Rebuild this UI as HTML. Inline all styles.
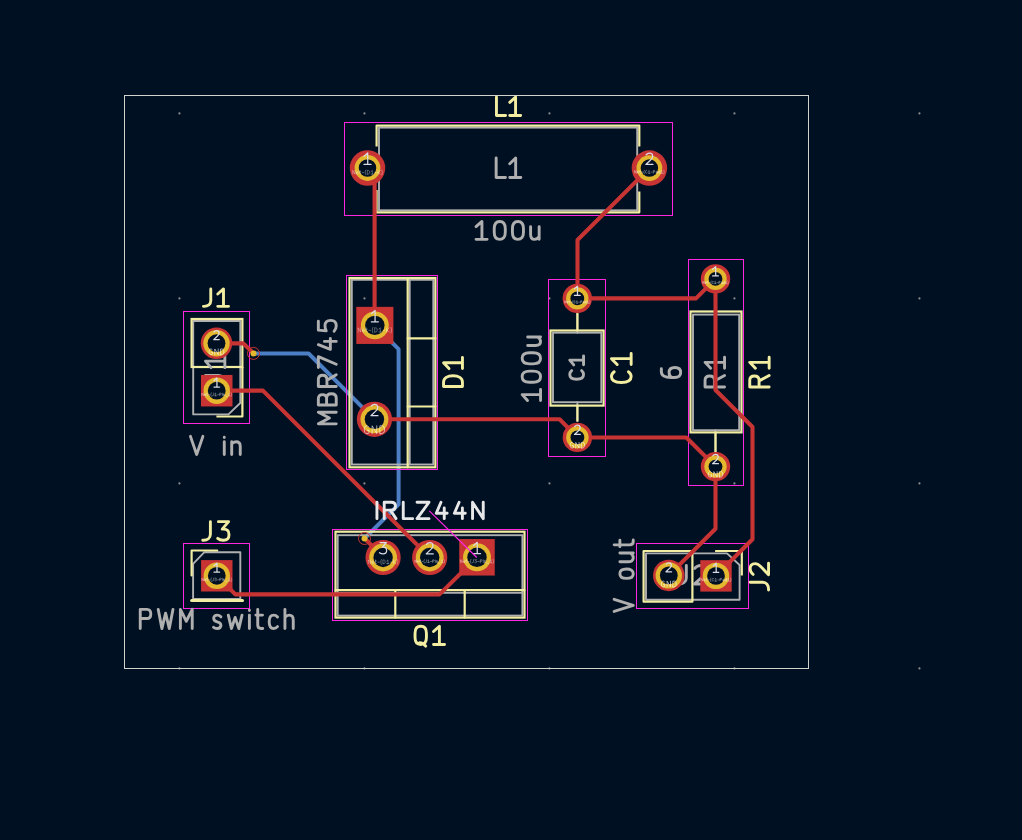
<!DOCTYPE html>
<html><head><meta charset="utf-8"><title>PCB</title>
<style>html,body{margin:0;padding:0;background:#001023;width:1022px;height:840px;overflow:hidden;font-family:"Liberation Sans",sans-serif}</style>
</head><body>
<svg width="1022" height="840" viewBox="0 0 1022 840" style="display:block">
<rect width="1022" height="840" fill="#001023"/>
<circle cx="179.45" cy="113.40" r="1.1" fill="#8c8c8c"/>
<circle cx="179.45" cy="298.40" r="1.1" fill="#8c8c8c"/>
<circle cx="179.45" cy="483.40" r="1.1" fill="#8c8c8c"/>
<circle cx="179.45" cy="668.40" r="1.1" fill="#8c8c8c"/>
<circle cx="364.45" cy="113.40" r="1.1" fill="#8c8c8c"/>
<circle cx="364.45" cy="298.40" r="1.1" fill="#8c8c8c"/>
<circle cx="364.45" cy="483.40" r="1.1" fill="#8c8c8c"/>
<circle cx="364.45" cy="668.40" r="1.1" fill="#8c8c8c"/>
<circle cx="549.45" cy="113.40" r="1.1" fill="#8c8c8c"/>
<circle cx="549.45" cy="298.40" r="1.1" fill="#8c8c8c"/>
<circle cx="549.45" cy="483.40" r="1.1" fill="#8c8c8c"/>
<circle cx="549.45" cy="668.40" r="1.1" fill="#8c8c8c"/>
<circle cx="734.45" cy="113.40" r="1.1" fill="#8c8c8c"/>
<circle cx="734.45" cy="298.40" r="1.1" fill="#8c8c8c"/>
<circle cx="734.45" cy="483.40" r="1.1" fill="#8c8c8c"/>
<circle cx="734.45" cy="668.40" r="1.1" fill="#8c8c8c"/>
<circle cx="919.45" cy="113.40" r="1.1" fill="#8c8c8c"/>
<circle cx="919.45" cy="298.40" r="1.1" fill="#8c8c8c"/>
<circle cx="919.45" cy="483.40" r="1.1" fill="#8c8c8c"/>
<circle cx="919.45" cy="668.40" r="1.1" fill="#8c8c8c"/>
<path d="M253.50,353.50 L308.60,353.50 L374.45,419.30" fill="none" stroke="#4d7fc4" stroke-width="3.95" stroke-linecap="round" stroke-linejoin="round"/>
<path d="M374.85,325.40 L398.60,349.20 L398.60,504.40 L364.50,538.50" fill="none" stroke="#4d7fc4" stroke-width="3.95" stroke-linecap="round" stroke-linejoin="round"/>
<rect x="379" y="127.6" width="258.20" height="82.70" fill="none" stroke="#afafaf" stroke-width="1.9"/>
<path d="M376.60,146.50 L376.60,125.60 L639.30,125.60 L639.30,146.40" fill="none" stroke="#f2eda1" stroke-width="2.2" stroke-linecap="butt" stroke-linejoin="round"/>
<path d="M376.60,190.00 L376.60,212.30 L639.30,212.30 L639.30,191.40" fill="none" stroke="#f2eda1" stroke-width="2.2" stroke-linecap="butt" stroke-linejoin="round"/>
<rect x="344.5" y="122.5" width="328.00" height="93.00" fill="none" stroke="#ff26e2" stroke-width="1"/>
<g transform="translate(508.50,167.75) scale(17.8986,19.4000) translate(-0.6900,0.5000)" fill="none" stroke="#afafaf" stroke-width="2.9" stroke-linecap="round" stroke-linejoin="round"><path vector-effect="non-scaling-stroke" transform="translate(0.000,0)" d="M0,-1 L0,0 L0.52,0"/><path vector-effect="non-scaling-stroke" transform="translate(0.760,0)" d="M0,-0.71 L0.33,-1 L0.33,0 M0,0 L0.62,0"/></g>
<g transform="translate(508.55,106.25) scale(17.5362,18.6000) translate(-0.6900,0.5000)" fill="none" stroke="#f2eda1" stroke-width="2.9" stroke-linecap="round" stroke-linejoin="round"><path vector-effect="non-scaling-stroke" transform="translate(0.000,0)" d="M0,-1 L0,0 L0.52,0"/><path vector-effect="non-scaling-stroke" transform="translate(0.760,0)" d="M0,-0.71 L0.33,-1 L0.33,0 M0,0 L0.62,0"/></g>
<g transform="translate(507.60,230.40) scale(17.8249,17.9000) translate(-1.7700,0.5000)" fill="none" stroke="#afafaf" stroke-width="2.9" stroke-linecap="round" stroke-linejoin="round"><path vector-effect="non-scaling-stroke" transform="translate(0.000,0)" d="M0,-0.71 L0.33,-1 L0.33,0 M0,0 L0.62,0"/><path vector-effect="non-scaling-stroke" transform="translate(1.020,0)" d="M0.31,-1 C0.5,-1 0.62,-0.86 0.62,-0.6 L0.62,-0.4 C0.62,-0.14 0.5,0 0.31,0 C0.12,0 0,-0.14 0,-0.4 L0,-0.6 C0,-0.86 0.12,-1 0.31,-1 Z"/><path vector-effect="non-scaling-stroke" transform="translate(2.040,0)" d="M0.31,-1 C0.5,-1 0.62,-0.86 0.62,-0.6 L0.62,-0.4 C0.62,-0.14 0.5,0 0.31,0 C0.12,0 0,-0.14 0,-0.4 L0,-0.6 C0,-0.86 0.12,-1 0.31,-1 Z"/><path vector-effect="non-scaling-stroke" transform="translate(3.060,0)" d="M0,-0.7 L0,-0.27 C0,-0.1 0.07,0 0.22,0 C0.33,0 0.42,-0.06 0.48,-0.16 M0.48,-0.7 L0.48,0"/></g>
<rect x="351.8" y="279.8" width="81.50" height="184.70" fill="none" stroke="#afafaf" stroke-width="1.9"/>
<path d="M409.70,279.80 L409.70,464.50" fill="none" stroke="#afafaf" stroke-width="1.9" stroke-linecap="round" stroke-linejoin="round"/>
<rect x="349.5" y="278" width="85.90" height="189.30" fill="none" stroke="#f2eda1" stroke-width="2.2"/>
<path d="M407.70,278.00 L407.70,467.30" fill="none" stroke="#f2eda1" stroke-width="2.2" stroke-linecap="round" stroke-linejoin="round"/>
<path d="M407.70,338.40 L435.40,338.40" fill="none" stroke="#f2eda1" stroke-width="2.2" stroke-linecap="round" stroke-linejoin="round"/>
<path d="M407.70,406.50 L435.40,406.50" fill="none" stroke="#f2eda1" stroke-width="2.2" stroke-linecap="round" stroke-linejoin="round"/>
<rect x="346.5" y="275.5" width="91.00" height="194.00" fill="none" stroke="#ff26e2" stroke-width="1"/>
<g transform="translate(327.30,372.10) rotate(-90) scale(18.1261,17.9000) translate(-2.8550,0.5000)" fill="none" stroke="#afafaf" stroke-width="2.9" stroke-linecap="round" stroke-linejoin="round"><path vector-effect="non-scaling-stroke" transform="translate(0.000,0)" d="M0,0 L0,-1 L0.32,-0.38 L0.64,-1 L0.64,0"/><path vector-effect="non-scaling-stroke" transform="translate(1.040,0)" d="M0.34,-0.54 C0.49,-0.54 0.57,-0.63 0.57,-0.77 C0.57,-0.91 0.49,-1 0.34,-1 L0,-1 L0,0 L0.38,0 C0.53,0 0.62,-0.1 0.62,-0.27 C0.62,-0.44 0.53,-0.54 0.38,-0.54 L0,-0.54"/><path vector-effect="non-scaling-stroke" transform="translate(2.060,0)" d="M0,0 L0,-1 L0.38,-1 C0.54,-1 0.62,-0.9 0.62,-0.76 C0.62,-0.6 0.54,-0.52 0.38,-0.52 L0,-0.52 M0.34,-0.52 L0.65,0"/><path vector-effect="non-scaling-stroke" transform="translate(3.110,0)" d="M0,-1 L0.6,-1 L0.18,0"/><path vector-effect="non-scaling-stroke" transform="translate(4.110,0)" d="M0.26,-1 L0,-0.33 L0.6,-0.33 M0.44,-0.66 L0.44,0"/><path vector-effect="non-scaling-stroke" transform="translate(5.110,0)" d="M0.55,-1 L0.06,-1 L0.02,-0.56 C0.1,-0.6 0.2,-0.63 0.3,-0.63 C0.5,-0.63 0.6,-0.5 0.6,-0.31 C0.6,-0.1 0.5,0 0.3,0 C0.18,0 0.08,-0.04 0,-0.12"/></g>
<g transform="translate(453.00,372.00) rotate(-90) scale(17.8395,18.9000) translate(-0.8100,0.5000)" fill="none" stroke="#f2eda1" stroke-width="2.9" stroke-linecap="round" stroke-linejoin="round"><path vector-effect="non-scaling-stroke" transform="translate(0.000,0)" d="M0,0 L0,-1 L0.24,-1 C0.47,-1 0.6,-0.8 0.6,-0.5 C0.6,-0.2 0.47,0 0.24,0 Z"/><path vector-effect="non-scaling-stroke" transform="translate(1.000,0)" d="M0,-0.71 L0.33,-1 L0.33,0 M0,0 L0.62,0"/></g>
<path d="M228.40,414.40 L193.20,414.40 L193.20,321.00 L240.30,321.00 L240.30,403.00 L228.40,414.40" fill="none" stroke="#afafaf" stroke-width="1.9" stroke-linecap="round" stroke-linejoin="round"/>
<rect x="191.6" y="319" width="50.80" height="48.00" fill="none" stroke="#f2eda1" stroke-width="2.2"/>
<path d="M242.40,367.00 L242.40,416.50 L216.40,416.50" fill="none" stroke="#f2eda1" stroke-width="2.2" stroke-linecap="butt" stroke-linejoin="round"/>
<rect x="183.5" y="311.5" width="66.00" height="112.00" fill="none" stroke="#ff26e2" stroke-width="1"/>
<g transform="translate(216.00,297.65) scale(17.4306,17.4000) translate(-0.7200,0.5000)" fill="none" stroke="#f2eda1" stroke-width="2.9" stroke-linecap="round" stroke-linejoin="round"><path vector-effect="non-scaling-stroke" transform="translate(0.000,0)" d="M0.42,-1 L0.42,-0.32 C0.42,-0.12 0.26,0 0.04,0 L0,0"/><path vector-effect="non-scaling-stroke" transform="translate(0.820,0)" d="M0,-0.71 L0.33,-1 L0.33,0 M0,0 L0.62,0"/></g>
<g transform="translate(215.35,445.40) scale(18.5821,18.1000) translate(-1.3400,0.5000)" fill="none" stroke="#afafaf" stroke-width="2.9" stroke-linecap="round" stroke-linejoin="round"><path vector-effect="non-scaling-stroke" transform="translate(0.000,0)" d="M0,-1 L0.335,0 L0.67,-1"/><path vector-effect="non-scaling-stroke" transform="translate(1.820,0)" d="M0,-0.7 L0,0 M0,-0.95 L0,-0.94"/><path vector-effect="non-scaling-stroke" transform="translate(2.220,0)" d="M0,-0.7 L0,0 M0,-0.58 C0.06,-0.66 0.13,-0.7 0.23,-0.7 C0.38,-0.7 0.46,-0.61 0.46,-0.45 L0.46,0"/></g>
<g transform="translate(215.15,369.60) rotate(-90) scale(19.6528,19.4000) translate(-0.7200,0.5000)" fill="none" stroke="#afafaf" stroke-width="2.9" stroke-linecap="round" stroke-linejoin="round"><path vector-effect="non-scaling-stroke" transform="translate(0.000,0)" d="M0.42,-1 L0.42,-0.32 C0.42,-0.12 0.26,0 0.04,0 L0,0"/><path vector-effect="non-scaling-stroke" transform="translate(0.820,0)" d="M0,-0.71 L0.33,-1 L0.33,0 M0,0 L0.62,0"/></g>
<rect x="553" y="332.7" width="48.30" height="69.50" fill="none" stroke="#afafaf" stroke-width="1.9"/>
<path d="M577.40,314.00 L577.40,332.70" fill="none" stroke="#afafaf" stroke-width="1.9" stroke-linecap="round" stroke-linejoin="round"/>
<path d="M577.40,402.20 L577.40,421.00" fill="none" stroke="#afafaf" stroke-width="1.9" stroke-linecap="round" stroke-linejoin="round"/>
<rect x="550.5" y="330.5" width="53.10" height="75.10" fill="none" stroke="#f2eda1" stroke-width="2.2"/>
<path d="M577.40,313.00 L577.40,330.50" fill="none" stroke="#f2eda1" stroke-width="2.2" stroke-linecap="butt" stroke-linejoin="round"/>
<path d="M577.40,405.60 L577.40,421.50" fill="none" stroke="#f2eda1" stroke-width="2.2" stroke-linecap="butt" stroke-linejoin="round"/>
<rect x="548.5" y="279.5" width="57.00" height="177.00" fill="none" stroke="#ff26e2" stroke-width="1"/>
<g transform="translate(576.65,367.60) rotate(-90) scale(14.3827,13.8000) translate(-0.8100,0.5000)" fill="none" stroke="#afafaf" stroke-width="2.9" stroke-linecap="round" stroke-linejoin="round"><path vector-effect="non-scaling-stroke" transform="translate(0.000,0)" d="M0.6,-0.86 C0.52,-0.96 0.43,-1 0.33,-1 C0.12,-1 0,-0.8 0,-0.5 C0,-0.2 0.12,0 0.33,0 C0.43,0 0.52,-0.04 0.6,-0.14"/><path vector-effect="non-scaling-stroke" transform="translate(1.000,0)" d="M0,-0.71 L0.33,-1 L0.33,0 M0,0 L0.62,0"/></g>
<g transform="translate(621.30,368.00) rotate(-90) scale(17.9630,19.7000) translate(-0.8100,0.5000)" fill="none" stroke="#f2eda1" stroke-width="2.9" stroke-linecap="round" stroke-linejoin="round"><path vector-effect="non-scaling-stroke" transform="translate(0.000,0)" d="M0.6,-0.86 C0.52,-0.96 0.43,-1 0.33,-1 C0.12,-1 0,-0.8 0,-0.5 C0,-0.2 0.12,0 0.33,0 C0.43,0 0.52,-0.04 0.6,-0.14"/><path vector-effect="non-scaling-stroke" transform="translate(1.000,0)" d="M0,-0.71 L0.33,-1 L0.33,0 M0,0 L0.62,0"/></g>
<g transform="translate(531.35,368.75) rotate(-90) scale(17.9661,18.4000) translate(-1.7700,0.5000)" fill="none" stroke="#afafaf" stroke-width="2.9" stroke-linecap="round" stroke-linejoin="round"><path vector-effect="non-scaling-stroke" transform="translate(0.000,0)" d="M0,-0.71 L0.33,-1 L0.33,0 M0,0 L0.62,0"/><path vector-effect="non-scaling-stroke" transform="translate(1.020,0)" d="M0.31,-1 C0.5,-1 0.62,-0.86 0.62,-0.6 L0.62,-0.4 C0.62,-0.14 0.5,0 0.31,0 C0.12,0 0,-0.14 0,-0.4 L0,-0.6 C0,-0.86 0.12,-1 0.31,-1 Z"/><path vector-effect="non-scaling-stroke" transform="translate(2.040,0)" d="M0.31,-1 C0.5,-1 0.62,-0.86 0.62,-0.6 L0.62,-0.4 C0.62,-0.14 0.5,0 0.31,0 C0.12,0 0,-0.14 0,-0.4 L0,-0.6 C0,-0.86 0.12,-1 0.31,-1 Z"/><path vector-effect="non-scaling-stroke" transform="translate(3.060,0)" d="M0,-0.7 L0,-0.27 C0,-0.1 0.07,0 0.22,0 C0.33,0 0.42,-0.06 0.48,-0.16 M0.48,-0.7 L0.48,0"/></g>
<rect x="693" y="314.6" width="46.20" height="115.60" fill="none" stroke="#afafaf" stroke-width="1.9"/>
<path d="M715.50,293.00 L715.50,314.60" fill="none" stroke="#afafaf" stroke-width="1.9" stroke-linecap="round" stroke-linejoin="round"/>
<path d="M715.50,430.20 L715.50,452.00" fill="none" stroke="#afafaf" stroke-width="1.9" stroke-linecap="round" stroke-linejoin="round"/>
<rect x="690.5" y="311.5" width="51.00" height="120.90" fill="none" stroke="#f2eda1" stroke-width="2.2"/>
<path d="M715.50,293.00 L715.50,311.50" fill="none" stroke="#f2eda1" stroke-width="2.2" stroke-linecap="butt" stroke-linejoin="round"/>
<path d="M715.50,432.40 L715.50,452.00" fill="none" stroke="#f2eda1" stroke-width="2.2" stroke-linecap="butt" stroke-linejoin="round"/>
<rect x="688.5" y="259.5" width="55.00" height="226.00" fill="none" stroke="#ff26e2" stroke-width="1"/>
<g transform="translate(714.80,372.10) rotate(-90) scale(17.9042,19.5000) translate(-0.8350,0.5000)" fill="none" stroke="#afafaf" stroke-width="2.9" stroke-linecap="round" stroke-linejoin="round"><path vector-effect="non-scaling-stroke" transform="translate(0.000,0)" d="M0,0 L0,-1 L0.38,-1 C0.54,-1 0.62,-0.9 0.62,-0.76 C0.62,-0.6 0.54,-0.52 0.38,-0.52 L0,-0.52 M0.34,-0.52 L0.65,0"/><path vector-effect="non-scaling-stroke" transform="translate(1.050,0)" d="M0,-0.71 L0.33,-1 L0.33,0 M0,0 L0.62,0"/></g>
<g transform="translate(759.45,372.10) rotate(-90) scale(17.9042,19.4000) translate(-0.8350,0.5000)" fill="none" stroke="#f2eda1" stroke-width="2.9" stroke-linecap="round" stroke-linejoin="round"><path vector-effect="non-scaling-stroke" transform="translate(0.000,0)" d="M0,0 L0,-1 L0.38,-1 C0.54,-1 0.62,-0.9 0.62,-0.76 C0.62,-0.6 0.54,-0.52 0.38,-0.52 L0,-0.52 M0.34,-0.52 L0.65,0"/><path vector-effect="non-scaling-stroke" transform="translate(1.050,0)" d="M0,-0.71 L0.33,-1 L0.33,0 M0,0 L0.62,0"/></g>
<g transform="translate(671.00,372.50) rotate(-90) scale(17.6786,19.3000) translate(-0.2800,0.5000)" fill="none" stroke="#afafaf" stroke-width="2.9" stroke-linecap="round" stroke-linejoin="round"><path vector-effect="non-scaling-stroke" transform="translate(0.000,0)" d="M0.5,-1 L0.32,-1 C0.1,-1 0,-0.82 0,-0.5 L0,-0.32 C0,-0.1 0.1,0 0.28,0 C0.46,0 0.56,-0.1 0.56,-0.3 C0.56,-0.5 0.46,-0.6 0.28,-0.6 C0.14,-0.6 0.05,-0.54 0,-0.44"/></g>
<path d="M646.00,553.40 L727.00,553.40 L739.60,565.00 L739.60,599.70 L646.00,599.70 L646.00,553.40" fill="none" stroke="#afafaf" stroke-width="1.9" stroke-linecap="round" stroke-linejoin="round"/>
<path d="M692.40,551.00 L643.60,551.00 L643.60,601.70 L692.40,601.70 L692.40,551.00" fill="none" stroke="#f2eda1" stroke-width="2.2" stroke-linecap="round" stroke-linejoin="round"/>
<path d="M715.10,551.00 L741.80,551.00 L741.80,575.60" fill="none" stroke="#f2eda1" stroke-width="2.2" stroke-linecap="butt" stroke-linejoin="round"/>
<rect x="636.5" y="543.5" width="112.00" height="65.00" fill="none" stroke="#ff26e2" stroke-width="1"/>
<g transform="translate(692.30,574.75) scale(19.9306,18.6000) translate(-0.7200,0.5000)" fill="none" stroke="#afafaf" stroke-width="2.9" stroke-linecap="round" stroke-linejoin="round"><path vector-effect="non-scaling-stroke" transform="translate(0.000,0)" d="M0.42,-1 L0.42,-0.32 C0.42,-0.12 0.26,0 0.04,0 L0,0"/><path vector-effect="non-scaling-stroke" transform="translate(0.820,0)" d="M0.02,-0.84 C0.1,-0.95 0.2,-1 0.32,-1 C0.5,-1 0.6,-0.9 0.6,-0.73 C0.6,-0.6 0.53,-0.5 0.42,-0.4 L0,0 L0.62,0"/></g>
<g transform="translate(759.35,576.65) rotate(-90) scale(18.6111,18.4000) translate(-0.7200,0.5000)" fill="none" stroke="#f2eda1" stroke-width="2.9" stroke-linecap="round" stroke-linejoin="round"><path vector-effect="non-scaling-stroke" transform="translate(0.000,0)" d="M0.42,-1 L0.42,-0.32 C0.42,-0.12 0.26,0 0.04,0 L0,0"/><path vector-effect="non-scaling-stroke" transform="translate(0.820,0)" d="M0.02,-0.84 C0.1,-0.95 0.2,-1 0.32,-1 C0.5,-1 0.6,-0.9 0.6,-0.73 C0.6,-0.6 0.53,-0.5 0.42,-0.4 L0,0 L0.62,0"/></g>
<g transform="translate(623.70,575.70) rotate(-90) scale(18.1472,19.1000) translate(-1.9700,0.5000)" fill="none" stroke="#afafaf" stroke-width="2.9" stroke-linecap="round" stroke-linejoin="round"><path vector-effect="non-scaling-stroke" transform="translate(0.000,0)" d="M0,-1 L0.335,0 L0.67,-1"/><path vector-effect="non-scaling-stroke" transform="translate(1.820,0)" d="M0.26,-0.7 C0.43,-0.7 0.52,-0.56 0.52,-0.35 C0.52,-0.14 0.43,0 0.26,0 C0.09,0 0,-0.14 0,-0.35 C0,-0.56 0.09,-0.7 0.26,-0.7 Z"/><path vector-effect="non-scaling-stroke" transform="translate(2.740,0)" d="M0,-0.7 L0,-0.27 C0,-0.1 0.07,0 0.22,0 C0.33,0 0.42,-0.06 0.48,-0.16 M0.48,-0.7 L0.48,0"/><path vector-effect="non-scaling-stroke" transform="translate(3.570,0)" d="M0.1,-1 L0.1,-0.18 C0.1,-0.06 0.17,0 0.28,0 L0.37,0 M0,-0.7 L0.36,-0.7"/></g>
<rect x="337.7" y="535.2" width="184.70" height="80.40" fill="none" stroke="#afafaf" stroke-width="1.9"/>
<path d="M337.70,592.90 L522.40,592.90" fill="none" stroke="#afafaf" stroke-width="1.9" stroke-linecap="round" stroke-linejoin="round"/>
<rect x="335.5" y="531.7" width="189.00" height="85.90" fill="none" stroke="#f2eda1" stroke-width="2.2"/>
<path d="M335.50,590.10 L524.50,590.10" fill="none" stroke="#f2eda1" stroke-width="2.2" stroke-linecap="round" stroke-linejoin="round"/>
<path d="M395.30,590.10 L395.30,617.60" fill="none" stroke="#f2eda1" stroke-width="2.2" stroke-linecap="round" stroke-linejoin="round"/>
<path d="M464.70,590.10 L464.70,617.60" fill="none" stroke="#f2eda1" stroke-width="2.2" stroke-linecap="round" stroke-linejoin="round"/>
<rect x="332.5" y="529.5" width="195.00" height="91.00" fill="none" stroke="#ff26e2" stroke-width="1"/>
<g transform="translate(429.80,636.30) scale(17.7711,18.2727) translate(-0.8300,0.4500)" fill="none" stroke="#f2eda1" stroke-width="2.9" stroke-linecap="round" stroke-linejoin="round"><path vector-effect="non-scaling-stroke" transform="translate(0.000,0)" d="M0.32,-1 C0.52,-1 0.64,-0.86 0.64,-0.62 L0.64,-0.38 C0.64,-0.14 0.52,0 0.32,0 C0.12,0 0,-0.14 0,-0.38 L0,-0.62 C0,-0.86 0.12,-1 0.32,-1 Z M0.26,-0.1 C0.4,-0.1 0.5,-0.04 0.6,0.09"/><path vector-effect="non-scaling-stroke" transform="translate(1.040,0)" d="M0,-0.71 L0.33,-1 L0.33,0 M0,0 L0.62,0"/></g>
<path d="M193.10,563.80 L204.40,552.20 L240.30,552.20 L240.30,599.00 L193.10,599.00 L193.10,563.80" fill="none" stroke="#afafaf" stroke-width="1.9" stroke-linecap="round" stroke-linejoin="round"/>
<path d="M191.60,575.50 L191.60,550.50 L217.20,550.50" fill="none" stroke="#f2eda1" stroke-width="2.2" stroke-linecap="round" stroke-linejoin="round"/>
<path d="M191.60,600.60 L242.50,600.60" fill="none" stroke="#f2eda1" stroke-width="3.0" stroke-linecap="round" stroke-linejoin="round"/>
<rect x="183.5" y="543.5" width="66.00" height="65.00" fill="none" stroke="#ff26e2" stroke-width="1"/>
<g transform="translate(215.85,530.95) scale(18.1944,18.6000) translate(-0.7200,0.5000)" fill="none" stroke="#f2eda1" stroke-width="2.9" stroke-linecap="round" stroke-linejoin="round"><path vector-effect="non-scaling-stroke" transform="translate(0.000,0)" d="M0.42,-1 L0.42,-0.32 C0.42,-0.12 0.26,0 0.04,0 L0,0"/><path vector-effect="non-scaling-stroke" transform="translate(0.820,0)" d="M0.04,-1 L0.6,-1 L0.25,-0.6 L0.34,-0.6 C0.52,-0.6 0.62,-0.49 0.62,-0.32 L0.62,-0.27 C0.62,-0.1 0.5,0 0.31,0 C0.18,0 0.08,-0.03 0,-0.1"/></g>
<g transform="translate(216.75,618.95) scale(18.5006,19.2000) translate(-4.1350,0.5000)" fill="none" stroke="#afafaf" stroke-width="2.9" stroke-linecap="round" stroke-linejoin="round"><path vector-effect="non-scaling-stroke" transform="translate(0.000,0)" d="M0,0 L0,-1 L0.36,-1 C0.5,-1 0.57,-0.9 0.57,-0.76 C0.57,-0.61 0.5,-0.52 0.36,-0.52 L0,-0.52"/><path vector-effect="non-scaling-stroke" transform="translate(0.970,0)" d="M0,-1 L0.2,0 L0.4,-0.8 L0.6,0 L0.8,-1"/><path vector-effect="non-scaling-stroke" transform="translate(2.170,0)" d="M0,0 L0,-1 L0.32,-0.38 L0.64,-1 L0.64,0"/><path vector-effect="non-scaling-stroke" transform="translate(3.960,0)" d="M0.4,-0.61 C0.33,-0.68 0.27,-0.7 0.2,-0.7 C0.08,-0.7 0.01,-0.63 0.01,-0.52 C0.01,-0.42 0.08,-0.38 0.2,-0.35 C0.33,-0.32 0.4,-0.27 0.4,-0.17 C0.4,-0.06 0.32,0 0.2,0 C0.11,0 0.05,-0.02 0,-0.07"/><path vector-effect="non-scaling-stroke" transform="translate(4.760,0)" d="M0,-0.7 L0.17,0 L0.37,-0.58 L0.57,0 L0.74,-0.7"/><path vector-effect="non-scaling-stroke" transform="translate(5.900,0)" d="M0,-0.7 L0,0 M0,-0.95 L0,-0.94"/><path vector-effect="non-scaling-stroke" transform="translate(6.250,0)" d="M0.1,-1 L0.1,-0.18 C0.1,-0.06 0.17,0 0.28,0 L0.37,0 M0,-0.7 L0.36,-0.7"/><path vector-effect="non-scaling-stroke" transform="translate(6.970,0)" d="M0.45,-0.6 C0.39,-0.67 0.32,-0.7 0.24,-0.7 C0.09,-0.7 0,-0.57 0,-0.35 C0,-0.13 0.09,0 0.24,0 C0.32,0 0.39,-0.03 0.45,-0.1"/><path vector-effect="non-scaling-stroke" transform="translate(7.820,0)" d="M0,-1 L0,0 M0,-0.58 C0.06,-0.66 0.13,-0.7 0.23,-0.7 C0.38,-0.7 0.45,-0.61 0.45,-0.45 L0.45,0"/></g>
<rect x="124.5" y="95.5" width="684" height="573" fill="none" stroke="#d0d2cd" stroke-width="1"/>
<path d="M374.60,168.20 L374.60,325.40" fill="none" stroke="#c83434" stroke-width="4.1" stroke-linecap="round" stroke-linejoin="round"/>
<path d="M649.40,168.10 L577.50,240.00 L577.50,298.40" fill="none" stroke="#c83434" stroke-width="4.1" stroke-linecap="round" stroke-linejoin="round"/>
<path d="M577.30,298.40 L696.00,298.40 L715.50,278.90" fill="none" stroke="#c83434" stroke-width="4.1" stroke-linecap="round" stroke-linejoin="round"/>
<path d="M715.50,278.90 L715.50,390.00 L752.50,427.00 L752.50,539.30 L716.00,575.90" fill="none" stroke="#c83434" stroke-width="4.1" stroke-linecap="round" stroke-linejoin="round"/>
<path d="M374.45,419.30 L559.60,419.30 L577.40,437.40" fill="none" stroke="#c83434" stroke-width="4.1" stroke-linecap="round" stroke-linejoin="round"/>
<path d="M577.40,437.45 L686.40,437.45 L715.50,466.60" fill="none" stroke="#c83434" stroke-width="4.1" stroke-linecap="round" stroke-linejoin="round"/>
<path d="M715.50,466.60 L715.50,528.70 L668.80,575.40" fill="none" stroke="#c83434" stroke-width="4.1" stroke-linecap="round" stroke-linejoin="round"/>
<path d="M216.30,343.40 L243.30,343.40 L253.50,353.30" fill="none" stroke="#c83434" stroke-width="4.1" stroke-linecap="round" stroke-linejoin="round"/>
<path d="M216.75,390.60 L262.90,390.60 L429.70,557.40" fill="none" stroke="#c83434" stroke-width="4.1" stroke-linecap="round" stroke-linejoin="round"/>
<path d="M216.80,575.80 L235.40,594.40 L439.50,594.40 L477.00,557.30" fill="none" stroke="#c83434" stroke-width="4.1" stroke-linecap="round" stroke-linejoin="round"/>
<path d="M364.60,538.30 L383.10,557.40" fill="none" stroke="#c83434" stroke-width="4.1" stroke-linecap="round" stroke-linejoin="round"/>
<circle cx="367.5" cy="168.0" r="17.75" fill="#c83434"/>
<circle cx="367.5" cy="168.0" r="12.9" fill="#e3b72e"/>
<circle cx="367.5" cy="168.0" r="8.75" fill="#001023"/>
<circle cx="649.4" cy="168.1" r="17.75" fill="#c83434"/>
<circle cx="649.4" cy="168.1" r="12.9" fill="#e3b72e"/>
<circle cx="649.4" cy="168.1" r="8.75" fill="#001023"/>
<rect x="356.30" y="306.85" width="37.10" height="37.10" fill="#c83434"/>
<circle cx="374.85" cy="325.4" r="13.95" fill="#e3b72e"/>
<circle cx="374.85" cy="325.4" r="9.7" fill="#001023"/>
<circle cx="374.45" cy="419.3" r="17.6" fill="#c83434"/>
<circle cx="374.45" cy="419.3" r="13.95" fill="#e3b72e"/>
<circle cx="374.45" cy="419.3" r="9.7" fill="#001023"/>
<circle cx="383.1" cy="557.5" r="17.6" fill="#c83434"/>
<circle cx="383.1" cy="557.5" r="13.95" fill="#e3b72e"/>
<circle cx="383.1" cy="557.5" r="9.7" fill="#001023"/>
<circle cx="429.7" cy="557.5" r="17.6" fill="#c83434"/>
<circle cx="429.7" cy="557.5" r="13.95" fill="#e3b72e"/>
<circle cx="429.7" cy="557.5" r="9.7" fill="#001023"/>
<rect x="459.25" y="539.05" width="35.50" height="36.50" fill="#c83434"/>
<circle cx="477.0" cy="557.3" r="13.95" fill="#e3b72e"/>
<circle cx="477.0" cy="557.3" r="9.7" fill="#001023"/>
<circle cx="577.3" cy="298.4" r="14.7" fill="#c83434"/>
<circle cx="577.3" cy="298.4" r="11.2" fill="#e3b72e"/>
<circle cx="577.3" cy="298.4" r="6.9" fill="#001023"/>
<circle cx="577.4" cy="437.4" r="14.7" fill="#c83434"/>
<circle cx="577.4" cy="437.4" r="11.2" fill="#e3b72e"/>
<circle cx="577.4" cy="437.4" r="6.9" fill="#001023"/>
<circle cx="715.5" cy="278.9" r="14.7" fill="#c83434"/>
<circle cx="715.5" cy="278.9" r="11.2" fill="#e3b72e"/>
<circle cx="715.5" cy="278.9" r="6.9" fill="#001023"/>
<circle cx="715.5" cy="466.6" r="14.7" fill="#c83434"/>
<circle cx="715.5" cy="466.6" r="11.2" fill="#e3b72e"/>
<circle cx="715.5" cy="466.6" r="6.9" fill="#001023"/>
<circle cx="216.5" cy="343.25" r="15.75" fill="#c83434"/>
<circle cx="216.5" cy="343.25" r="13.2" fill="#e3b72e"/>
<circle cx="216.5" cy="343.25" r="8.9" fill="#001023"/>
<rect x="201.00" y="374.95" width="31.50" height="31.50" fill="#c83434"/>
<circle cx="216.75" cy="390.7" r="13.2" fill="#e3b72e"/>
<circle cx="216.75" cy="390.7" r="8.9" fill="#001023"/>
<circle cx="668.8" cy="575.4" r="15.75" fill="#c83434"/>
<circle cx="668.8" cy="575.4" r="13.2" fill="#e3b72e"/>
<circle cx="668.8" cy="575.4" r="8.9" fill="#001023"/>
<rect x="700.30" y="560.20" width="31.40" height="31.40" fill="#c83434"/>
<circle cx="716.0" cy="575.9" r="13.2" fill="#e3b72e"/>
<circle cx="716.0" cy="575.9" r="8.9" fill="#001023"/>
<rect x="201.10" y="560.10" width="31.40" height="31.40" fill="#c83434"/>
<circle cx="216.8" cy="575.8" r="13.2" fill="#e3b72e"/>
<circle cx="216.8" cy="575.8" r="8.9" fill="#001023"/>
<g transform="translate(363.98,164.38) scale(11.3500)" fill="none" stroke="#dcdce6" stroke-width="1.25" stroke-linecap="round" stroke-linejoin="round"><path vector-effect="non-scaling-stroke" transform="translate(0.000,0)" d="M0,-0.71 L0.33,-1 L0.33,0 M0,0 L0.62,0"/></g>
<g transform="translate(352.70,174.16) scale(3.7755)" fill="none" stroke="rgba(255,255,255,0.55)" stroke-width="0.6" stroke-linecap="round" stroke-linejoin="round"><path vector-effect="non-scaling-stroke" transform="translate(0.000,0)" d="M0,0 L0,-1 L0.59,0 L0.59,-1"/><path vector-effect="non-scaling-stroke" transform="translate(0.990,0)" d="M0.44,-0.08 C0.38,-0.03 0.31,0 0.24,0 C0.08,0 0,-0.13 0,-0.35 C0,-0.57 0.08,-0.7 0.23,-0.7 C0.38,-0.7 0.46,-0.58 0.46,-0.38 L0,-0.38"/><path vector-effect="non-scaling-stroke" transform="translate(1.800,0)" d="M0.1,-1 L0.1,-0.18 C0.1,-0.06 0.17,0 0.28,0 L0.37,0 M0,-0.7 L0.36,-0.7"/><path vector-effect="non-scaling-stroke" transform="translate(2.520,0)" d="M0,-0.4 L0.4,-0.4"/><path vector-effect="non-scaling-stroke" transform="translate(3.320,0)" d="M0.15,-1.1 C0.05,-0.9 0,-0.7 0,-0.45 C0,-0.2 0.05,0 0.15,0.2"/><path vector-effect="non-scaling-stroke" transform="translate(3.870,0)" d="M0,0 L0,-1 L0.24,-1 C0.47,-1 0.6,-0.8 0.6,-0.5 C0.6,-0.2 0.47,0 0.24,0 Z"/><path vector-effect="non-scaling-stroke" transform="translate(4.870,0)" d="M0,-0.71 L0.33,-1 L0.33,0 M0,0 L0.62,0"/><path vector-effect="non-scaling-stroke" transform="translate(5.890,0)" d="M0,-0.4 L0.4,-0.4"/><path vector-effect="non-scaling-stroke" transform="translate(6.690,0)" d="M0,0 L0,-1 M0.6,0 L0.12,-0.5 M0,-0.36 L0.6,-1"/><path vector-effect="non-scaling-stroke" transform="translate(7.690,0)" d="M0,-1.1 C0.1,-0.9 0.15,-0.7 0.15,-0.45 C0.15,-0.2 0.1,0 0,0.2"/></g>
<g transform="translate(645.88,164.47) scale(11.3500)" fill="none" stroke="#dcdce6" stroke-width="1.25" stroke-linecap="round" stroke-linejoin="round"><path vector-effect="non-scaling-stroke" transform="translate(0.000,0)" d="M0.02,-0.84 C0.1,-0.95 0.2,-1 0.32,-1 C0.5,-1 0.6,-0.9 0.6,-0.73 C0.6,-0.6 0.53,-0.5 0.42,-0.4 L0,0 L0.62,0"/></g>
<g transform="translate(634.60,173.25) scale(2.8057)" fill="none" stroke="rgba(255,255,255,0.55)" stroke-width="0.6" stroke-linecap="round" stroke-linejoin="round"><path vector-effect="non-scaling-stroke" transform="translate(0.000,0)" d="M0,0 L0,-1 L0.59,0 L0.59,-1"/><path vector-effect="non-scaling-stroke" transform="translate(0.990,0)" d="M0.44,-0.08 C0.38,-0.03 0.31,0 0.24,0 C0.08,0 0,-0.13 0,-0.35 C0,-0.57 0.08,-0.7 0.23,-0.7 C0.38,-0.7 0.46,-0.58 0.46,-0.38 L0,-0.38"/><path vector-effect="non-scaling-stroke" transform="translate(1.800,0)" d="M0.1,-1 L0.1,-0.18 C0.1,-0.06 0.17,0 0.28,0 L0.37,0 M0,-0.7 L0.36,-0.7"/><path vector-effect="non-scaling-stroke" transform="translate(2.520,0)" d="M0,-0.4 L0.4,-0.4"/><path vector-effect="non-scaling-stroke" transform="translate(3.320,0)" d="M0.15,-1.1 C0.05,-0.9 0,-0.7 0,-0.45 C0,-0.2 0.05,0 0.15,0.2"/><path vector-effect="non-scaling-stroke" transform="translate(3.870,0)" d="M0.6,-0.86 C0.52,-0.96 0.43,-1 0.33,-1 C0.12,-1 0,-0.8 0,-0.5 C0,-0.2 0.12,0 0.33,0 C0.43,0 0.52,-0.04 0.6,-0.14"/><path vector-effect="non-scaling-stroke" transform="translate(4.870,0)" d="M0,-0.71 L0.33,-1 L0.33,0 M0,0 L0.62,0"/><path vector-effect="non-scaling-stroke" transform="translate(5.890,0)" d="M0,-0.4 L0.4,-0.4"/><path vector-effect="non-scaling-stroke" transform="translate(6.690,0)" d="M0,0 L0,-1 L0.36,-1 C0.5,-1 0.57,-0.9 0.57,-0.76 C0.57,-0.61 0.5,-0.52 0.36,-0.52 L0,-0.52"/><path vector-effect="non-scaling-stroke" transform="translate(7.660,0)" d="M0.46,0 L0.46,-0.48 C0.46,-0.62 0.38,-0.7 0.23,-0.7 C0.14,-0.7 0.07,-0.68 0.02,-0.64 M0.46,-0.38 L0.2,-0.38 C0.08,-0.38 0,-0.3 0,-0.19 C0,-0.07 0.08,0 0.2,0 C0.32,0 0.41,-0.05 0.46,-0.12"/><path vector-effect="non-scaling-stroke" transform="translate(8.520,0)" d="M0.46,-1 L0.46,0 M0.46,-0.58 C0.4,-0.66 0.32,-0.7 0.23,-0.7 C0.08,-0.7 0,-0.57 0,-0.35 C0,-0.13 0.08,0 0.23,0 C0.32,0 0.4,-0.04 0.46,-0.12"/><path vector-effect="non-scaling-stroke" transform="translate(9.380,0)" d="M0,-0.71 L0.33,-1 L0.33,0 M0,0 L0.62,0"/><path vector-effect="non-scaling-stroke" transform="translate(10.400,0)" d="M0,-1.1 C0.1,-0.9 0.15,-0.7 0.15,-0.45 C0.15,-0.2 0.1,0 0,0.2"/></g>
<g transform="translate(371.33,321.77) scale(11.3500)" fill="none" stroke="#dcdce6" stroke-width="1.25" stroke-linecap="round" stroke-linejoin="round"><path vector-effect="non-scaling-stroke" transform="translate(0.000,0)" d="M0,-0.71 L0.33,-1 L0.33,0 M0,0 L0.62,0"/></g>
<g transform="translate(358.15,332.07) scale(4.2602)" fill="none" stroke="rgba(255,255,255,0.55)" stroke-width="0.6" stroke-linecap="round" stroke-linejoin="round"><path vector-effect="non-scaling-stroke" transform="translate(0.000,0)" d="M0,0 L0,-1 L0.59,0 L0.59,-1"/><path vector-effect="non-scaling-stroke" transform="translate(0.990,0)" d="M0.44,-0.08 C0.38,-0.03 0.31,0 0.24,0 C0.08,0 0,-0.13 0,-0.35 C0,-0.57 0.08,-0.7 0.23,-0.7 C0.38,-0.7 0.46,-0.58 0.46,-0.38 L0,-0.38"/><path vector-effect="non-scaling-stroke" transform="translate(1.800,0)" d="M0.1,-1 L0.1,-0.18 C0.1,-0.06 0.17,0 0.28,0 L0.37,0 M0,-0.7 L0.36,-0.7"/><path vector-effect="non-scaling-stroke" transform="translate(2.520,0)" d="M0,-0.4 L0.4,-0.4"/><path vector-effect="non-scaling-stroke" transform="translate(3.320,0)" d="M0.15,-1.1 C0.05,-0.9 0,-0.7 0,-0.45 C0,-0.2 0.05,0 0.15,0.2"/><path vector-effect="non-scaling-stroke" transform="translate(3.870,0)" d="M0,0 L0,-1 L0.24,-1 C0.47,-1 0.6,-0.8 0.6,-0.5 C0.6,-0.2 0.47,0 0.24,0 Z"/><path vector-effect="non-scaling-stroke" transform="translate(4.870,0)" d="M0,-0.71 L0.33,-1 L0.33,0 M0,0 L0.62,0"/><path vector-effect="non-scaling-stroke" transform="translate(5.890,0)" d="M0,-0.4 L0.4,-0.4"/><path vector-effect="non-scaling-stroke" transform="translate(6.690,0)" d="M0,0 L0,-1 M0.6,0 L0.12,-0.5 M0,-0.36 L0.6,-1"/><path vector-effect="non-scaling-stroke" transform="translate(7.690,0)" d="M0,-1.1 C0.1,-0.9 0.15,-0.7 0.15,-0.45 C0.15,-0.2 0.1,0 0,0.2"/></g>
<g transform="translate(370.93,415.68) scale(11.3500)" fill="none" stroke="#dcdce6" stroke-width="1.25" stroke-linecap="round" stroke-linejoin="round"><path vector-effect="non-scaling-stroke" transform="translate(0.000,0)" d="M0.02,-0.84 C0.1,-0.95 0.2,-1 0.32,-1 C0.5,-1 0.6,-0.9 0.6,-0.73 C0.6,-0.6 0.53,-0.5 0.42,-0.4 L0,0 L0.62,0"/></g>
<g transform="translate(364.35,433.60) scale(7.8000)" fill="none" stroke="rgba(255,255,255,0.6)" stroke-width="1.0" stroke-linecap="round" stroke-linejoin="round"><path vector-effect="non-scaling-stroke" transform="translate(0.000,0)" d="M0.58,-0.86 C0.5,-0.96 0.42,-1 0.32,-1 C0.12,-1 0,-0.8 0,-0.5 C0,-0.2 0.12,0 0.32,0 C0.45,0 0.54,-0.04 0.6,-0.1 L0.6,-0.44 L0.36,-0.44"/><path vector-effect="non-scaling-stroke" transform="translate(1.000,0)" d="M0,0 L0,-1 L0.59,0 L0.59,-1"/><path vector-effect="non-scaling-stroke" transform="translate(1.990,0)" d="M0,0 L0,-1 L0.24,-1 C0.47,-1 0.6,-0.8 0.6,-0.5 C0.6,-0.2 0.47,0 0.24,0 Z"/></g>
<g transform="translate(379.58,553.88) scale(11.3500)" fill="none" stroke="#dcdce6" stroke-width="1.25" stroke-linecap="round" stroke-linejoin="round"><path vector-effect="non-scaling-stroke" transform="translate(0.000,0)" d="M0.04,-1 L0.6,-1 L0.25,-0.6 L0.34,-0.6 C0.52,-0.6 0.62,-0.49 0.62,-0.32 L0.62,-0.27 C0.62,-0.1 0.5,0 0.31,0 C0.18,0 0.08,-0.03 0,-0.1"/></g>
<g transform="translate(368.30,563.66) scale(3.7755)" fill="none" stroke="rgba(255,255,255,0.55)" stroke-width="0.6" stroke-linecap="round" stroke-linejoin="round"><path vector-effect="non-scaling-stroke" transform="translate(0.000,0)" d="M0,0 L0,-1 L0.59,0 L0.59,-1"/><path vector-effect="non-scaling-stroke" transform="translate(0.990,0)" d="M0.44,-0.08 C0.38,-0.03 0.31,0 0.24,0 C0.08,0 0,-0.13 0,-0.35 C0,-0.57 0.08,-0.7 0.23,-0.7 C0.38,-0.7 0.46,-0.58 0.46,-0.38 L0,-0.38"/><path vector-effect="non-scaling-stroke" transform="translate(1.800,0)" d="M0.1,-1 L0.1,-0.18 C0.1,-0.06 0.17,0 0.28,0 L0.37,0 M0,-0.7 L0.36,-0.7"/><path vector-effect="non-scaling-stroke" transform="translate(2.520,0)" d="M0,-0.4 L0.4,-0.4"/><path vector-effect="non-scaling-stroke" transform="translate(3.320,0)" d="M0.15,-1.1 C0.05,-0.9 0,-0.7 0,-0.45 C0,-0.2 0.05,0 0.15,0.2"/><path vector-effect="non-scaling-stroke" transform="translate(3.870,0)" d="M0,0 L0,-1 L0.24,-1 C0.47,-1 0.6,-0.8 0.6,-0.5 C0.6,-0.2 0.47,0 0.24,0 Z"/><path vector-effect="non-scaling-stroke" transform="translate(4.870,0)" d="M0,-0.71 L0.33,-1 L0.33,0 M0,0 L0.62,0"/><path vector-effect="non-scaling-stroke" transform="translate(5.890,0)" d="M0,-0.4 L0.4,-0.4"/><path vector-effect="non-scaling-stroke" transform="translate(6.690,0)" d="M0,0 L0,-1 M0.6,0 L0.12,-0.5 M0,-0.36 L0.6,-1"/><path vector-effect="non-scaling-stroke" transform="translate(7.690,0)" d="M0,-1.1 C0.1,-0.9 0.15,-0.7 0.15,-0.45 C0.15,-0.2 0.1,0 0,0.2"/></g>
<g transform="translate(426.18,553.88) scale(11.3500)" fill="none" stroke="#dcdce6" stroke-width="1.25" stroke-linecap="round" stroke-linejoin="round"><path vector-effect="non-scaling-stroke" transform="translate(0.000,0)" d="M0.02,-0.84 C0.1,-0.95 0.2,-1 0.32,-1 C0.5,-1 0.6,-0.9 0.6,-0.73 C0.6,-0.6 0.53,-0.5 0.42,-0.4 L0,0 L0.62,0"/></g>
<g transform="translate(414.90,562.56) scale(2.7256)" fill="none" stroke="rgba(255,255,255,0.55)" stroke-width="0.6" stroke-linecap="round" stroke-linejoin="round"><path vector-effect="non-scaling-stroke" transform="translate(0.000,0)" d="M0,0 L0,-1 L0.59,0 L0.59,-1"/><path vector-effect="non-scaling-stroke" transform="translate(0.990,0)" d="M0.44,-0.08 C0.38,-0.03 0.31,0 0.24,0 C0.08,0 0,-0.13 0,-0.35 C0,-0.57 0.08,-0.7 0.23,-0.7 C0.38,-0.7 0.46,-0.58 0.46,-0.38 L0,-0.38"/><path vector-effect="non-scaling-stroke" transform="translate(1.800,0)" d="M0.1,-1 L0.1,-0.18 C0.1,-0.06 0.17,0 0.28,0 L0.37,0 M0,-0.7 L0.36,-0.7"/><path vector-effect="non-scaling-stroke" transform="translate(2.520,0)" d="M0,-0.4 L0.4,-0.4"/><path vector-effect="non-scaling-stroke" transform="translate(3.320,0)" d="M0.15,-1.1 C0.05,-0.9 0,-0.7 0,-0.45 C0,-0.2 0.05,0 0.15,0.2"/><path vector-effect="non-scaling-stroke" transform="translate(3.870,0)" d="M0.42,-1 L0.42,-0.32 C0.42,-0.12 0.26,0 0.04,0 L0,0"/><path vector-effect="non-scaling-stroke" transform="translate(4.690,0)" d="M0,-0.71 L0.33,-1 L0.33,0 M0,0 L0.62,0"/><path vector-effect="non-scaling-stroke" transform="translate(5.710,0)" d="M0,-0.4 L0.4,-0.4"/><path vector-effect="non-scaling-stroke" transform="translate(6.510,0)" d="M0,0 L0,-1 L0.36,-1 C0.5,-1 0.57,-0.9 0.57,-0.76 C0.57,-0.61 0.5,-0.52 0.36,-0.52 L0,-0.52"/><path vector-effect="non-scaling-stroke" transform="translate(7.480,0)" d="M0,-0.7 L0,0 M0,-0.95 L0,-0.94"/><path vector-effect="non-scaling-stroke" transform="translate(7.880,0)" d="M0,-0.7 L0,0 M0,-0.58 C0.06,-0.66 0.13,-0.7 0.23,-0.7 C0.38,-0.7 0.46,-0.61 0.46,-0.45 L0.46,0"/><path vector-effect="non-scaling-stroke" transform="translate(8.740,0)" d="M0,0.2 L0.55,0.2"/><path vector-effect="non-scaling-stroke" transform="translate(9.690,0)" d="M0,-0.71 L0.33,-1 L0.33,0 M0,0 L0.62,0"/><path vector-effect="non-scaling-stroke" transform="translate(10.710,0)" d="M0,-1.1 C0.1,-0.9 0.15,-0.7 0.15,-0.45 C0.15,-0.2 0.1,0 0,0.2"/></g>
<g transform="translate(473.48,553.67) scale(11.3500)" fill="none" stroke="#dcdce6" stroke-width="1.25" stroke-linecap="round" stroke-linejoin="round"><path vector-effect="non-scaling-stroke" transform="translate(0.000,0)" d="M0,-0.71 L0.33,-1 L0.33,0 M0,0 L0.62,0"/></g>
<g transform="translate(460.30,562.73) scale(3.0755)" fill="none" stroke="rgba(255,255,255,0.55)" stroke-width="0.6" stroke-linecap="round" stroke-linejoin="round"><path vector-effect="non-scaling-stroke" transform="translate(0.000,0)" d="M0,0 L0,-1 L0.59,0 L0.59,-1"/><path vector-effect="non-scaling-stroke" transform="translate(0.990,0)" d="M0.44,-0.08 C0.38,-0.03 0.31,0 0.24,0 C0.08,0 0,-0.13 0,-0.35 C0,-0.57 0.08,-0.7 0.23,-0.7 C0.38,-0.7 0.46,-0.58 0.46,-0.38 L0,-0.38"/><path vector-effect="non-scaling-stroke" transform="translate(1.800,0)" d="M0.1,-1 L0.1,-0.18 C0.1,-0.06 0.17,0 0.28,0 L0.37,0 M0,-0.7 L0.36,-0.7"/><path vector-effect="non-scaling-stroke" transform="translate(2.520,0)" d="M0,-0.4 L0.4,-0.4"/><path vector-effect="non-scaling-stroke" transform="translate(3.320,0)" d="M0.15,-1.1 C0.05,-0.9 0,-0.7 0,-0.45 C0,-0.2 0.05,0 0.15,0.2"/><path vector-effect="non-scaling-stroke" transform="translate(3.870,0)" d="M0.42,-1 L0.42,-0.32 C0.42,-0.12 0.26,0 0.04,0 L0,0"/><path vector-effect="non-scaling-stroke" transform="translate(4.690,0)" d="M0.04,-1 L0.6,-1 L0.25,-0.6 L0.34,-0.6 C0.52,-0.6 0.62,-0.49 0.62,-0.32 L0.62,-0.27 C0.62,-0.1 0.5,0 0.31,0 C0.18,0 0.08,-0.03 0,-0.1"/><path vector-effect="non-scaling-stroke" transform="translate(5.710,0)" d="M0,-0.4 L0.4,-0.4"/><path vector-effect="non-scaling-stroke" transform="translate(6.510,0)" d="M0,0 L0,-1 L0.36,-1 C0.5,-1 0.57,-0.9 0.57,-0.76 C0.57,-0.61 0.5,-0.52 0.36,-0.52 L0,-0.52"/><path vector-effect="non-scaling-stroke" transform="translate(7.480,0)" d="M0,-0.7 L0,0 M0,-0.95 L0,-0.94"/><path vector-effect="non-scaling-stroke" transform="translate(7.880,0)" d="M0,-0.7 L0,0 M0,-0.58 C0.06,-0.66 0.13,-0.7 0.23,-0.7 C0.38,-0.7 0.46,-0.61 0.46,-0.45 L0.46,0"/><path vector-effect="non-scaling-stroke" transform="translate(8.740,0)" d="M0,0.2 L0.55,0.2"/><path vector-effect="non-scaling-stroke" transform="translate(9.690,0)" d="M0,-0.71 L0.33,-1 L0.33,0 M0,0 L0.62,0"/><path vector-effect="non-scaling-stroke" transform="translate(10.710,0)" d="M0,-1.1 C0.1,-0.9 0.15,-0.7 0.15,-0.45 C0.15,-0.2 0.1,0 0,0.2"/></g>
<g transform="translate(574.40,295.47) scale(9.3500)" fill="none" stroke="#dcdce6" stroke-width="1.25" stroke-linecap="round" stroke-linejoin="round"><path vector-effect="non-scaling-stroke" transform="translate(0.000,0)" d="M0,-0.71 L0.33,-1 L0.33,0 M0,0 L0.62,0"/></g>
<g transform="translate(564.60,303.13) scale(2.4076)" fill="none" stroke="rgba(255,255,255,0.55)" stroke-width="0.6" stroke-linecap="round" stroke-linejoin="round"><path vector-effect="non-scaling-stroke" transform="translate(0.000,0)" d="M0,0 L0,-1 L0.59,0 L0.59,-1"/><path vector-effect="non-scaling-stroke" transform="translate(0.990,0)" d="M0.44,-0.08 C0.38,-0.03 0.31,0 0.24,0 C0.08,0 0,-0.13 0,-0.35 C0,-0.57 0.08,-0.7 0.23,-0.7 C0.38,-0.7 0.46,-0.58 0.46,-0.38 L0,-0.38"/><path vector-effect="non-scaling-stroke" transform="translate(1.800,0)" d="M0.1,-1 L0.1,-0.18 C0.1,-0.06 0.17,0 0.28,0 L0.37,0 M0,-0.7 L0.36,-0.7"/><path vector-effect="non-scaling-stroke" transform="translate(2.520,0)" d="M0,-0.4 L0.4,-0.4"/><path vector-effect="non-scaling-stroke" transform="translate(3.320,0)" d="M0.15,-1.1 C0.05,-0.9 0,-0.7 0,-0.45 C0,-0.2 0.05,0 0.15,0.2"/><path vector-effect="non-scaling-stroke" transform="translate(3.870,0)" d="M0.6,-0.86 C0.52,-0.96 0.43,-1 0.33,-1 C0.12,-1 0,-0.8 0,-0.5 C0,-0.2 0.12,0 0.33,0 C0.43,0 0.52,-0.04 0.6,-0.14"/><path vector-effect="non-scaling-stroke" transform="translate(4.870,0)" d="M0,-0.71 L0.33,-1 L0.33,0 M0,0 L0.62,0"/><path vector-effect="non-scaling-stroke" transform="translate(5.890,0)" d="M0,-0.4 L0.4,-0.4"/><path vector-effect="non-scaling-stroke" transform="translate(6.690,0)" d="M0,0 L0,-1 L0.36,-1 C0.5,-1 0.57,-0.9 0.57,-0.76 C0.57,-0.61 0.5,-0.52 0.36,-0.52 L0,-0.52"/><path vector-effect="non-scaling-stroke" transform="translate(7.660,0)" d="M0.46,0 L0.46,-0.48 C0.46,-0.62 0.38,-0.7 0.23,-0.7 C0.14,-0.7 0.07,-0.68 0.02,-0.64 M0.46,-0.38 L0.2,-0.38 C0.08,-0.38 0,-0.3 0,-0.19 C0,-0.07 0.08,0 0.2,0 C0.32,0 0.41,-0.05 0.46,-0.12"/><path vector-effect="non-scaling-stroke" transform="translate(8.520,0)" d="M0.46,-1 L0.46,0 M0.46,-0.58 C0.4,-0.66 0.32,-0.7 0.23,-0.7 C0.08,-0.7 0,-0.57 0,-0.35 C0,-0.13 0.08,0 0.23,0 C0.32,0 0.4,-0.04 0.46,-0.12"/><path vector-effect="non-scaling-stroke" transform="translate(9.380,0)" d="M0,-0.71 L0.33,-1 L0.33,0 M0,0 L0.62,0"/><path vector-effect="non-scaling-stroke" transform="translate(10.400,0)" d="M0,-1.1 C0.1,-0.9 0.15,-0.7 0.15,-0.45 C0.15,-0.2 0.1,0 0,0.2"/></g>
<g transform="translate(574.50,434.47) scale(9.3500)" fill="none" stroke="#dcdce6" stroke-width="1.25" stroke-linecap="round" stroke-linejoin="round"><path vector-effect="non-scaling-stroke" transform="translate(0.000,0)" d="M0.02,-0.84 C0.1,-0.95 0.2,-1 0.32,-1 C0.5,-1 0.6,-0.9 0.6,-0.73 C0.6,-0.6 0.53,-0.5 0.42,-0.4 L0,0 L0.62,0"/></g>
<g transform="translate(570.15,448.00) scale(5.6000)" fill="none" stroke="rgba(255,255,255,0.6)" stroke-width="1.0" stroke-linecap="round" stroke-linejoin="round"><path vector-effect="non-scaling-stroke" transform="translate(0.000,0)" d="M0.58,-0.86 C0.5,-0.96 0.42,-1 0.32,-1 C0.12,-1 0,-0.8 0,-0.5 C0,-0.2 0.12,0 0.32,0 C0.45,0 0.54,-0.04 0.6,-0.1 L0.6,-0.44 L0.36,-0.44"/><path vector-effect="non-scaling-stroke" transform="translate(1.000,0)" d="M0,0 L0,-1 L0.59,0 L0.59,-1"/><path vector-effect="non-scaling-stroke" transform="translate(1.990,0)" d="M0,0 L0,-1 L0.24,-1 C0.47,-1 0.6,-0.8 0.6,-0.5 C0.6,-0.2 0.47,0 0.24,0 Z"/></g>
<g transform="translate(712.60,275.97) scale(9.3500)" fill="none" stroke="#dcdce6" stroke-width="1.25" stroke-linecap="round" stroke-linejoin="round"><path vector-effect="non-scaling-stroke" transform="translate(0.000,0)" d="M0,-0.71 L0.33,-1 L0.33,0 M0,0 L0.62,0"/></g>
<g transform="translate(702.80,283.63) scale(2.4076)" fill="none" stroke="rgba(255,255,255,0.55)" stroke-width="0.6" stroke-linecap="round" stroke-linejoin="round"><path vector-effect="non-scaling-stroke" transform="translate(0.000,0)" d="M0,0 L0,-1 L0.59,0 L0.59,-1"/><path vector-effect="non-scaling-stroke" transform="translate(0.990,0)" d="M0.44,-0.08 C0.38,-0.03 0.31,0 0.24,0 C0.08,0 0,-0.13 0,-0.35 C0,-0.57 0.08,-0.7 0.23,-0.7 C0.38,-0.7 0.46,-0.58 0.46,-0.38 L0,-0.38"/><path vector-effect="non-scaling-stroke" transform="translate(1.800,0)" d="M0.1,-1 L0.1,-0.18 C0.1,-0.06 0.17,0 0.28,0 L0.37,0 M0,-0.7 L0.36,-0.7"/><path vector-effect="non-scaling-stroke" transform="translate(2.520,0)" d="M0,-0.4 L0.4,-0.4"/><path vector-effect="non-scaling-stroke" transform="translate(3.320,0)" d="M0.15,-1.1 C0.05,-0.9 0,-0.7 0,-0.45 C0,-0.2 0.05,0 0.15,0.2"/><path vector-effect="non-scaling-stroke" transform="translate(3.870,0)" d="M0.6,-0.86 C0.52,-0.96 0.43,-1 0.33,-1 C0.12,-1 0,-0.8 0,-0.5 C0,-0.2 0.12,0 0.33,0 C0.43,0 0.52,-0.04 0.6,-0.14"/><path vector-effect="non-scaling-stroke" transform="translate(4.870,0)" d="M0,-0.71 L0.33,-1 L0.33,0 M0,0 L0.62,0"/><path vector-effect="non-scaling-stroke" transform="translate(5.890,0)" d="M0,-0.4 L0.4,-0.4"/><path vector-effect="non-scaling-stroke" transform="translate(6.690,0)" d="M0,0 L0,-1 L0.36,-1 C0.5,-1 0.57,-0.9 0.57,-0.76 C0.57,-0.61 0.5,-0.52 0.36,-0.52 L0,-0.52"/><path vector-effect="non-scaling-stroke" transform="translate(7.660,0)" d="M0.46,0 L0.46,-0.48 C0.46,-0.62 0.38,-0.7 0.23,-0.7 C0.14,-0.7 0.07,-0.68 0.02,-0.64 M0.46,-0.38 L0.2,-0.38 C0.08,-0.38 0,-0.3 0,-0.19 C0,-0.07 0.08,0 0.2,0 C0.32,0 0.41,-0.05 0.46,-0.12"/><path vector-effect="non-scaling-stroke" transform="translate(8.520,0)" d="M0.46,-1 L0.46,0 M0.46,-0.58 C0.4,-0.66 0.32,-0.7 0.23,-0.7 C0.08,-0.7 0,-0.57 0,-0.35 C0,-0.13 0.08,0 0.23,0 C0.32,0 0.4,-0.04 0.46,-0.12"/><path vector-effect="non-scaling-stroke" transform="translate(9.380,0)" d="M0,-0.71 L0.33,-1 L0.33,0 M0,0 L0.62,0"/><path vector-effect="non-scaling-stroke" transform="translate(10.400,0)" d="M0,-1.1 C0.1,-0.9 0.15,-0.7 0.15,-0.45 C0.15,-0.2 0.1,0 0,0.2"/></g>
<g transform="translate(712.60,463.68) scale(9.3500)" fill="none" stroke="#dcdce6" stroke-width="1.25" stroke-linecap="round" stroke-linejoin="round"><path vector-effect="non-scaling-stroke" transform="translate(0.000,0)" d="M0.02,-0.84 C0.1,-0.95 0.2,-1 0.32,-1 C0.5,-1 0.6,-0.9 0.6,-0.73 C0.6,-0.6 0.53,-0.5 0.42,-0.4 L0,0 L0.62,0"/></g>
<g transform="translate(708.25,477.20) scale(5.6000)" fill="none" stroke="rgba(255,255,255,0.6)" stroke-width="1.0" stroke-linecap="round" stroke-linejoin="round"><path vector-effect="non-scaling-stroke" transform="translate(0.000,0)" d="M0.58,-0.86 C0.5,-0.96 0.42,-1 0.32,-1 C0.12,-1 0,-0.8 0,-0.5 C0,-0.2 0.12,0 0.32,0 C0.45,0 0.54,-0.04 0.6,-0.1 L0.6,-0.44 L0.36,-0.44"/><path vector-effect="non-scaling-stroke" transform="translate(1.000,0)" d="M0,0 L0,-1 L0.59,0 L0.59,-1"/><path vector-effect="non-scaling-stroke" transform="translate(1.990,0)" d="M0,0 L0,-1 L0.24,-1 C0.47,-1 0.6,-0.8 0.6,-0.5 C0.6,-0.2 0.47,0 0.24,0 Z"/></g>
<g transform="translate(213.71,339.62) scale(9.0000)" fill="none" stroke="#dcdce6" stroke-width="1.25" stroke-linecap="round" stroke-linejoin="round"><path vector-effect="non-scaling-stroke" transform="translate(0.000,0)" d="M0.02,-0.84 C0.1,-0.95 0.2,-1 0.32,-1 C0.5,-1 0.6,-0.9 0.6,-0.73 C0.6,-0.6 0.53,-0.5 0.42,-0.4 L0,0 L0.62,0"/></g>
<g transform="translate(209.05,354.73) scale(5.7500)" fill="none" stroke="rgba(255,255,255,0.6)" stroke-width="1.0" stroke-linecap="round" stroke-linejoin="round"><path vector-effect="non-scaling-stroke" transform="translate(0.000,0)" d="M0.58,-0.86 C0.5,-0.96 0.42,-1 0.32,-1 C0.12,-1 0,-0.8 0,-0.5 C0,-0.2 0.12,0 0.32,0 C0.45,0 0.54,-0.04 0.6,-0.1 L0.6,-0.44 L0.36,-0.44"/><path vector-effect="non-scaling-stroke" transform="translate(1.000,0)" d="M0,0 L0,-1 L0.59,0 L0.59,-1"/><path vector-effect="non-scaling-stroke" transform="translate(1.990,0)" d="M0,0 L0,-1 L0.24,-1 C0.47,-1 0.6,-0.8 0.6,-0.5 C0.6,-0.2 0.47,0 0.24,0 Z"/></g>
<g transform="translate(213.96,387.07) scale(9.0000)" fill="none" stroke="#dcdce6" stroke-width="1.25" stroke-linecap="round" stroke-linejoin="round"><path vector-effect="non-scaling-stroke" transform="translate(0.000,0)" d="M0,-0.71 L0.33,-1 L0.33,0 M0,0 L0.62,0"/></g>
<g transform="translate(201.80,395.79) scale(2.7532)" fill="none" stroke="rgba(255,255,255,0.55)" stroke-width="0.6" stroke-linecap="round" stroke-linejoin="round"><path vector-effect="non-scaling-stroke" transform="translate(0.000,0)" d="M0,0 L0,-1 L0.59,0 L0.59,-1"/><path vector-effect="non-scaling-stroke" transform="translate(0.990,0)" d="M0.44,-0.08 C0.38,-0.03 0.31,0 0.24,0 C0.08,0 0,-0.13 0,-0.35 C0,-0.57 0.08,-0.7 0.23,-0.7 C0.38,-0.7 0.46,-0.58 0.46,-0.38 L0,-0.38"/><path vector-effect="non-scaling-stroke" transform="translate(1.800,0)" d="M0.1,-1 L0.1,-0.18 C0.1,-0.06 0.17,0 0.28,0 L0.37,0 M0,-0.7 L0.36,-0.7"/><path vector-effect="non-scaling-stroke" transform="translate(2.520,0)" d="M0,-0.4 L0.4,-0.4"/><path vector-effect="non-scaling-stroke" transform="translate(3.320,0)" d="M0.15,-1.1 C0.05,-0.9 0,-0.7 0,-0.45 C0,-0.2 0.05,0 0.15,0.2"/><path vector-effect="non-scaling-stroke" transform="translate(3.870,0)" d="M0.42,-1 L0.42,-0.32 C0.42,-0.12 0.26,0 0.04,0 L0,0"/><path vector-effect="non-scaling-stroke" transform="translate(4.690,0)" d="M0,-0.71 L0.33,-1 L0.33,0 M0,0 L0.62,0"/><path vector-effect="non-scaling-stroke" transform="translate(5.710,0)" d="M0,-0.4 L0.4,-0.4"/><path vector-effect="non-scaling-stroke" transform="translate(6.510,0)" d="M0,0 L0,-1 L0.36,-1 C0.5,-1 0.57,-0.9 0.57,-0.76 C0.57,-0.61 0.5,-0.52 0.36,-0.52 L0,-0.52"/><path vector-effect="non-scaling-stroke" transform="translate(7.480,0)" d="M0,-0.7 L0,0 M0,-0.95 L0,-0.94"/><path vector-effect="non-scaling-stroke" transform="translate(7.880,0)" d="M0,-0.7 L0,0 M0,-0.58 C0.06,-0.66 0.13,-0.7 0.23,-0.7 C0.38,-0.7 0.46,-0.61 0.46,-0.45 L0.46,0"/><path vector-effect="non-scaling-stroke" transform="translate(8.740,0)" d="M0,0.2 L0.55,0.2"/><path vector-effect="non-scaling-stroke" transform="translate(9.690,0)" d="M0,-0.71 L0.33,-1 L0.33,0 M0,0 L0.62,0"/><path vector-effect="non-scaling-stroke" transform="translate(10.710,0)" d="M0,-1.1 C0.1,-0.9 0.15,-0.7 0.15,-0.45 C0.15,-0.2 0.1,0 0,0.2"/></g>
<g transform="translate(666.01,571.77) scale(9.0000)" fill="none" stroke="#dcdce6" stroke-width="1.25" stroke-linecap="round" stroke-linejoin="round"><path vector-effect="non-scaling-stroke" transform="translate(0.000,0)" d="M0.02,-0.84 C0.1,-0.95 0.2,-1 0.32,-1 C0.5,-1 0.6,-0.9 0.6,-0.73 C0.6,-0.6 0.53,-0.5 0.42,-0.4 L0,0 L0.62,0"/></g>
<g transform="translate(661.35,586.88) scale(5.7500)" fill="none" stroke="rgba(255,255,255,0.6)" stroke-width="1.0" stroke-linecap="round" stroke-linejoin="round"><path vector-effect="non-scaling-stroke" transform="translate(0.000,0)" d="M0.58,-0.86 C0.5,-0.96 0.42,-1 0.32,-1 C0.12,-1 0,-0.8 0,-0.5 C0,-0.2 0.12,0 0.32,0 C0.45,0 0.54,-0.04 0.6,-0.1 L0.6,-0.44 L0.36,-0.44"/><path vector-effect="non-scaling-stroke" transform="translate(1.000,0)" d="M0,0 L0,-1 L0.59,0 L0.59,-1"/><path vector-effect="non-scaling-stroke" transform="translate(1.990,0)" d="M0,0 L0,-1 L0.24,-1 C0.47,-1 0.6,-0.8 0.6,-0.5 C0.6,-0.2 0.47,0 0.24,0 Z"/></g>
<g transform="translate(713.21,572.27) scale(9.0000)" fill="none" stroke="#dcdce6" stroke-width="1.25" stroke-linecap="round" stroke-linejoin="round"><path vector-effect="non-scaling-stroke" transform="translate(0.000,0)" d="M0,-0.71 L0.33,-1 L0.33,0 M0,0 L0.62,0"/></g>
<g transform="translate(701.05,581.08) scale(2.8341)" fill="none" stroke="rgba(255,255,255,0.55)" stroke-width="0.6" stroke-linecap="round" stroke-linejoin="round"><path vector-effect="non-scaling-stroke" transform="translate(0.000,0)" d="M0,0 L0,-1 L0.59,0 L0.59,-1"/><path vector-effect="non-scaling-stroke" transform="translate(0.990,0)" d="M0.44,-0.08 C0.38,-0.03 0.31,0 0.24,0 C0.08,0 0,-0.13 0,-0.35 C0,-0.57 0.08,-0.7 0.23,-0.7 C0.38,-0.7 0.46,-0.58 0.46,-0.38 L0,-0.38"/><path vector-effect="non-scaling-stroke" transform="translate(1.800,0)" d="M0.1,-1 L0.1,-0.18 C0.1,-0.06 0.17,0 0.28,0 L0.37,0 M0,-0.7 L0.36,-0.7"/><path vector-effect="non-scaling-stroke" transform="translate(2.520,0)" d="M0,-0.4 L0.4,-0.4"/><path vector-effect="non-scaling-stroke" transform="translate(3.320,0)" d="M0.15,-1.1 C0.05,-0.9 0,-0.7 0,-0.45 C0,-0.2 0.05,0 0.15,0.2"/><path vector-effect="non-scaling-stroke" transform="translate(3.870,0)" d="M0.6,-0.86 C0.52,-0.96 0.43,-1 0.33,-1 C0.12,-1 0,-0.8 0,-0.5 C0,-0.2 0.12,0 0.33,0 C0.43,0 0.52,-0.04 0.6,-0.14"/><path vector-effect="non-scaling-stroke" transform="translate(4.870,0)" d="M0,-0.71 L0.33,-1 L0.33,0 M0,0 L0.62,0"/><path vector-effect="non-scaling-stroke" transform="translate(5.890,0)" d="M0,-0.4 L0.4,-0.4"/><path vector-effect="non-scaling-stroke" transform="translate(6.690,0)" d="M0,0 L0,-1 L0.36,-1 C0.5,-1 0.57,-0.9 0.57,-0.76 C0.57,-0.61 0.5,-0.52 0.36,-0.52 L0,-0.52"/><path vector-effect="non-scaling-stroke" transform="translate(7.660,0)" d="M0.46,0 L0.46,-0.48 C0.46,-0.62 0.38,-0.7 0.23,-0.7 C0.14,-0.7 0.07,-0.68 0.02,-0.64 M0.46,-0.38 L0.2,-0.38 C0.08,-0.38 0,-0.3 0,-0.19 C0,-0.07 0.08,0 0.2,0 C0.32,0 0.41,-0.05 0.46,-0.12"/><path vector-effect="non-scaling-stroke" transform="translate(8.520,0)" d="M0.46,-1 L0.46,0 M0.46,-0.58 C0.4,-0.66 0.32,-0.7 0.23,-0.7 C0.08,-0.7 0,-0.57 0,-0.35 C0,-0.13 0.08,0 0.23,0 C0.32,0 0.4,-0.04 0.46,-0.12"/><path vector-effect="non-scaling-stroke" transform="translate(9.380,0)" d="M0,-0.71 L0.33,-1 L0.33,0 M0,0 L0.62,0"/><path vector-effect="non-scaling-stroke" transform="translate(10.400,0)" d="M0,-1.1 C0.1,-0.9 0.15,-0.7 0.15,-0.45 C0.15,-0.2 0.1,0 0,0.2"/></g>
<g transform="translate(214.01,572.17) scale(9.0000)" fill="none" stroke="#dcdce6" stroke-width="1.25" stroke-linecap="round" stroke-linejoin="round"><path vector-effect="non-scaling-stroke" transform="translate(0.000,0)" d="M0,-0.71 L0.33,-1 L0.33,0 M0,0 L0.62,0"/></g>
<g transform="translate(201.85,580.89) scale(2.7532)" fill="none" stroke="rgba(255,255,255,0.55)" stroke-width="0.6" stroke-linecap="round" stroke-linejoin="round"><path vector-effect="non-scaling-stroke" transform="translate(0.000,0)" d="M0,0 L0,-1 L0.59,0 L0.59,-1"/><path vector-effect="non-scaling-stroke" transform="translate(0.990,0)" d="M0.44,-0.08 C0.38,-0.03 0.31,0 0.24,0 C0.08,0 0,-0.13 0,-0.35 C0,-0.57 0.08,-0.7 0.23,-0.7 C0.38,-0.7 0.46,-0.58 0.46,-0.38 L0,-0.38"/><path vector-effect="non-scaling-stroke" transform="translate(1.800,0)" d="M0.1,-1 L0.1,-0.18 C0.1,-0.06 0.17,0 0.28,0 L0.37,0 M0,-0.7 L0.36,-0.7"/><path vector-effect="non-scaling-stroke" transform="translate(2.520,0)" d="M0,-0.4 L0.4,-0.4"/><path vector-effect="non-scaling-stroke" transform="translate(3.320,0)" d="M0.15,-1.1 C0.05,-0.9 0,-0.7 0,-0.45 C0,-0.2 0.05,0 0.15,0.2"/><path vector-effect="non-scaling-stroke" transform="translate(3.870,0)" d="M0.42,-1 L0.42,-0.32 C0.42,-0.12 0.26,0 0.04,0 L0,0"/><path vector-effect="non-scaling-stroke" transform="translate(4.690,0)" d="M0.04,-1 L0.6,-1 L0.25,-0.6 L0.34,-0.6 C0.52,-0.6 0.62,-0.49 0.62,-0.32 L0.62,-0.27 C0.62,-0.1 0.5,0 0.31,0 C0.18,0 0.08,-0.03 0,-0.1"/><path vector-effect="non-scaling-stroke" transform="translate(5.710,0)" d="M0,-0.4 L0.4,-0.4"/><path vector-effect="non-scaling-stroke" transform="translate(6.510,0)" d="M0,0 L0,-1 L0.36,-1 C0.5,-1 0.57,-0.9 0.57,-0.76 C0.57,-0.61 0.5,-0.52 0.36,-0.52 L0,-0.52"/><path vector-effect="non-scaling-stroke" transform="translate(7.480,0)" d="M0,-0.7 L0,0 M0,-0.95 L0,-0.94"/><path vector-effect="non-scaling-stroke" transform="translate(7.880,0)" d="M0,-0.7 L0,0 M0,-0.58 C0.06,-0.66 0.13,-0.7 0.23,-0.7 C0.38,-0.7 0.46,-0.61 0.46,-0.45 L0.46,0"/><path vector-effect="non-scaling-stroke" transform="translate(8.740,0)" d="M0,0.2 L0.55,0.2"/><path vector-effect="non-scaling-stroke" transform="translate(9.690,0)" d="M0,-0.71 L0.33,-1 L0.33,0 M0,0 L0.62,0"/><path vector-effect="non-scaling-stroke" transform="translate(10.710,0)" d="M0,-1.1 C0.1,-0.9 0.15,-0.7 0.15,-0.45 C0.15,-0.2 0.1,0 0,0.2"/></g>
<circle cx="253.5" cy="353.4" r="6.0" fill="none" stroke="#c83434" stroke-width="1"/>
<circle cx="253.5" cy="353.4" r="3" fill="#e3b72e"/>
<circle cx="364.5" cy="538.5" r="6.0" fill="none" stroke="#c83434" stroke-width="1"/>
<circle cx="364.5" cy="538.5" r="3" fill="#e3b72e"/>
<g transform="translate(430.10,510.45) scale(18.1399,16.4000) translate(-2.9300,0.5000)" fill="none" stroke="#e8e8e8" stroke-width="2.9" stroke-linecap="round" stroke-linejoin="round"><path vector-effect="non-scaling-stroke" transform="translate(0.000,0)" d="M0,-1 L0,0"/><path vector-effect="non-scaling-stroke" transform="translate(0.400,0)" d="M0,0 L0,-1 L0.38,-1 C0.54,-1 0.62,-0.9 0.62,-0.76 C0.62,-0.6 0.54,-0.52 0.38,-0.52 L0,-0.52 M0.34,-0.52 L0.65,0"/><path vector-effect="non-scaling-stroke" transform="translate(1.450,0)" d="M0,-1 L0,0 L0.52,0"/><path vector-effect="non-scaling-stroke" transform="translate(2.210,0)" d="M0,-1 L0.66,-1 L0,0 L0.66,0"/><path vector-effect="non-scaling-stroke" transform="translate(3.270,0)" d="M0.26,-1 L0,-0.33 L0.6,-0.33 M0.44,-0.66 L0.44,0"/><path vector-effect="non-scaling-stroke" transform="translate(4.270,0)" d="M0.26,-1 L0,-0.33 L0.6,-0.33 M0.44,-0.66 L0.44,0"/><path vector-effect="non-scaling-stroke" transform="translate(5.270,0)" d="M0,0 L0,-1 L0.59,0 L0.59,-1"/></g>
<line x1="429.3" y1="510.9" x2="476.8" y2="557.5" stroke="#ff26e2" stroke-width="1.2"/>
</svg>
</body></html>
